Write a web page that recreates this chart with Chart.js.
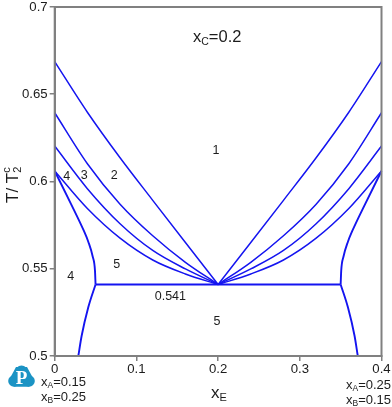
<!DOCTYPE html>
<html><head><meta charset="utf-8">
<style>html,body{margin:0;padding:0;background:#fff}#w{width:392px;height:407px}canvas{display:block}</style>
<script src="https://cdn.jsdelivr.net/npm/chart.js@4/dist/chart.umd.js"></script>
</head><body><div id="w"><canvas id="c" width="392" height="407"></canvas></div>
<script>
const xTicks=[0,0.1,0.2,0.3,0.4];
const yTicks=[0.5,0.55,0.6,0.65,0.7];
const c1L=[[0,.6687],[.04,.6397],[.08,.6136],[.12,.5892],[.16,.565],[.2,.541]];
const c1R=[[.2,.541],[.24,.565],[.28,.5892],[.32,.6136],[.36,.6397],[.4,.6687]];
const c2L=[[0,.6394],[.04,.6102],[.08,.587],[.12,.5689],[.16,.5537],[.2,.541]];
const c2R=[[.2,.541],[.24,.5537],[.28,.5689],[.32,.587],[.36,.6102],[.4,.6394]];
const c3L=[[0,.6203],[.04,.5959],[.08,.5758],[.12,.5605],[.16,.5499],[.2,.541]];
const c3R=[[.2,.541],[.24,.5499],[.28,.5605],[.32,.5758],[.36,.5959],[.4,.6203]];
const c4L=[[0,.606],[.04,.5845],[.08,.5675],[.12,.555],[.16,.547],[.2,.541]];
const c4R=[[.2,.541],[.24,.547],[.28,.555],[.32,.5675],[.36,.5845],[.4,.606]];
const bLU=[[0,.606],[.0196,.5875],[.0359,.5715],[.0411,.5655],[.0465,.557],[.0493,.5489],[.05,.541]];
const bRU=[[.35,.541],[.3507,.5489],[.3535,.557],[.3589,.5655],[.3641,.5715],[.3804,.5875],[.4,.606]];
const bLD=[[.05,.541],[.0411,.5279],[.033,.5116],[.0289,.5]];
const bRD=[[.35,.541],[.3589,.5279],[.367,.5116],[.371,.5]];
const tie=[[.05,.541],[.35,.541]];
const thin=[c1L,c1R,c2L,c2R,c3L,c3R,c4L,c4R];
const thick=[bLU,bRU,bLD,bRD,tie];
const regionLabels=[["1",.1974,.6175],["2",.073,.6032],["3",.0362,.6035],["4",.0147,.6028],["5",.0759,.5523],["4",.0196,.5457],["0.541",.1416,.534],["5",.1987,.5199]];
const BLUE="#1414f0",GRAY="#808080",INK="#1c1c1c",FONT='"Liberation Sans",Arial,sans-serif';
const toPts=a=>a.map(p=>({x:p[0],y:p[1]}));
const ds=(a,w)=>({data:toPts(a),showLine:true,borderColor:BLUE,borderWidth:w,pointRadius:0,cubicInterpolationMode:'monotone',fill:false,clip:false});
function runs(ctx,x,y,parts){
  ctx.textAlign='left';ctx.textBaseline='alphabetic';
  for(const [t,size,dy] of parts){ctx.font=size+'px '+FONT;ctx.fillText(t,x,y+dy);x+=ctx.measureText(t).width;}
}
const deco={id:'deco',
 afterDatasetsDraw(ch){
  const {ctx,chartArea:a,scales:{x,y}}=ch;
  ctx.save();
  ctx.strokeStyle=GRAY;ctx.lineWidth=2;ctx.strokeRect(a.left,a.top,a.right-a.left,a.bottom-a.top);
  ctx.fillStyle=INK;ctx.textAlign='center';ctx.textBaseline='middle';ctx.font='12.5px '+FONT;
  for(const [t,vx,vy] of regionLabels){ctx.fillText(t,x.getPixelForValue(vx),y.getPixelForValue(vy));}
  runs(ctx,193,42,[['x',16.5,0],['C',10.5,3],['=0.2',16.5,0]]);
  runs(ctx,211,398,[['x',17,0],['E',11,3]]);
  runs(ctx,41,386,[['x',13,0],['A',8.5,2],['=0.15',13,0]]);
  runs(ctx,41,401,[['x',13,0],['B',8.5,2],['=0.25',13,0]]);
  runs(ctx,346,389,[['x',13,0],['A',8.5,2],['=0.25',13,0]]);
  runs(ctx,346,404,[['x',13,0],['B',8.5,2],['=0.15',13,0]]);
  ctx.save();ctx.translate(18,203);ctx.rotate(-Math.PI/2);
  ctx.font='17px '+FONT;ctx.textAlign='left';ctx.fillText('T/ T',0,0);
  const w=ctx.measureText('T/ T').width;
  ctx.font='11px '+FONT;ctx.fillText('2',w,3);ctx.fillText('c',w,-8);
  ctx.restore();
  ctx.fillStyle='#1b93c4';
  ctx.beginPath();ctx.arc(21.5,372,6.5,0,7);ctx.fill();
  ctx.beginPath();ctx.arc(14,381,5.8,0,7);ctx.fill();
  ctx.beginPath();ctx.arc(29,381,5.8,0,7);ctx.fill();
  ctx.beginPath();ctx.moveTo(16,367);ctx.lineTo(27,367);ctx.lineTo(34,380);ctx.lineTo(29,386.8);ctx.lineTo(14,386.8);ctx.lineTo(9,380);ctx.closePath();ctx.fill();
  ctx.fillStyle='#fff';ctx.textAlign='center';ctx.textBaseline='alphabetic';ctx.font='bold 19px "Liberation Serif",serif';
  ctx.fillText('P',21.5,384);
  ctx.restore();
 }};
new Chart(document.getElementById('c'),{
 type:'scatter',
 data:{datasets:[...thin.map(a=>ds(a,1.5)),...thick.map(a=>ds(a,1.9))]},
 options:{responsive:false,animation:false,
  layout:{padding:{left:0,top:7,right:10.5,bottom:0}},
  plugins:{legend:{display:false},tooltip:{enabled:false}},
  scales:{
   x:{type:'linear',min:0,max:0.4,
    afterBuildTicks:s=>{s.ticks=xTicks.map(v=>({value:v}));},
    afterFit:s=>{s.height=51;s.paddingLeft=0;s.paddingRight=0;},
    grid:{drawOnChartArea:false,drawTicks:true,tickLength:5,color:GRAY,lineWidth:1.5},
    border:{color:GRAY,width:2},
    ticks:{color:INK,font:{family:FONT,size:13.2},padding:0,maxRotation:0,callback:v=>String(v)}},
   y:{type:'linear',min:0.5,max:0.7,
    afterBuildTicks:s=>{s.ticks=yTicks.map(v=>({value:v}));},
    afterFit:s=>{s.width=54.7;s.paddingTop=0;s.paddingBottom=0;},
    grid:{drawOnChartArea:false,drawTicks:true,tickLength:5,color:GRAY,lineWidth:1.5},
    border:{color:GRAY,width:2},
    ticks:{color:INK,font:{family:FONT,size:13.2},padding:2,callback:v=>String(v)}}
  }},
 plugins:[deco]});
</script></body></html>
